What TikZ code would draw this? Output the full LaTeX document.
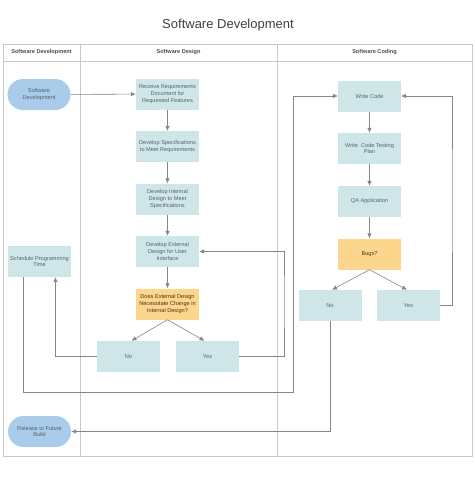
\documentclass[tikz,border=0pt]{standalone}
\usepackage{fontspec}
\setmainfont{Liberation Sans}
\usetikzlibrary{arrows.meta}
\definecolor{boxfill}{HTML}{CFE6E9}
\definecolor{askfill}{HTML}{FCD68C}
\definecolor{endfill}{HTML}{A8CCEA}
\definecolor{linecol}{HTML}{858585}
\definecolor{framecol}{HTML}{C8C8C8}
\definecolor{txtcol}{HTML}{55626B}
\begin{document}
\begin{tikzpicture}[x=1pt,y=-1pt,
  stepbox/.style={fill=boxfill, minimum width=63pt, minimum height=31pt, inner sep=1pt, align=center, text=txtcol, font=\fontsize{5.6}{6.7}\selectfont},
  askbox/.style={stepbox, fill=askfill, text=black!60!brown},
  endbox/.style={stepbox, fill=endfill, rounded corners=15.5pt},
  lanehead/.style={font=\bfseries\fontsize{5.6}{6.5}\selectfont, text=black!70},
  arr/.style={draw=linecol, -{Latex[length=5pt,width=4.5pt]}, line width=0.6pt}]
\useasboundingbox (0,0) rectangle (474,482);

\node (title) at (228,25) [font=\fontsize{13}{15}\selectfont, text=black!75]{Software Development};

% lanes
\draw [framecol, line width=0.7pt] (3,44) rectangle (472,456);
\draw [framecol, line width=0.7pt] (3,61) -- (472,61);
\draw [framecol, line width=0.7pt] (80,44) -- (80,456);
\draw [framecol, line width=0.7pt] (277,44) -- (277,456);
\node (lane-1) at (41.5,52.5) [lanehead]{Software Development};
\node (lane-2) at (178.5,52.5) [lanehead]{Software Design};
\node (lane-3) at (374.5,52.5) [lanehead]{Software Coding};

% software development lane
\node (start) at (39,94.5) [endbox]{Software\\Development};
\node (sched) at (39.5,261.5) [stepbox]{Schedule Programming\\Time};
\node (release) at (39.5,431.5) [endbox]{Release to Future\\Build};

% software design lane
\node (recv) at (167.5,94) [stepbox]{Receive Requirements\\Document for\\Requested Features};
\node (dspec) at (167.5,146.5) [stepbox]{Develop Specifications\\to Meet Requirements};
\node (dint) at (167.5,199) [stepbox]{Develop Internal\\Design to Meet\\Specifications};
\node (dext) at (167.5,251.5) [stepbox]{Develop External\\Design for User\\Interface};
\node (dask) at (167.5,304) [askbox]{Does External Design\\Necessitate Change in\\Internal Design?};
\node (dno) at (128.5,356.5) [stepbox]{No};
\node (dyes) at (207.5,356.5) [stepbox]{Yes};

% software coding lane
\node (wcode) at (369.5,96) [stepbox]{Write Code};
\node (wplan) at (369.5,148.5) [stepbox]{Write\ \ Code Testing\\Plan};
\node (qa) at (369.5,201.5) [stepbox]{QA Application};
\node (bugs) at (369.5,254) [askbox]{Bugs?};
\node (cno) at (330,305.5) [stepbox]{No};
\node (cyes) at (408.5,305.5) [stepbox]{Yes};

\coordinate (loop-1) at (293,392);
\coordinate (loop-2) at (284,300);
\coordinate (loop-3) at (452,200);

\draw [arr] (start) -- (recv);
\draw [arr] (recv) -- (dspec);
\draw [arr] (dspec) -- (dint);
\draw [arr] (dint) -- (dext);
\draw [arr] (dext) -- (dask);
\draw [arr] (dask.south) -- ([xshift=3pt]dno.north);
\draw [arr] (dask.south) -- ([xshift=-3pt]dyes.north);
\draw [arr] (dno.west) -| ([xshift=16pt]sched.south);
\draw [arr] ([xshift=-16pt]sched.south) |- (loop-1) |- (wcode.west);
\draw [arr] (dyes.east) -| (loop-2) |- (dext.east);

\draw [arr] (wcode) -- (wplan);
\draw [arr] (wplan) -- (qa);
\draw [arr] (qa) -- (bugs);
\draw [arr] (bugs.south) -- ([xshift=2pt]cno.north);
\draw [arr] (bugs.south) -- ([xshift=-1.5pt]cyes.north);
\draw [arr] (cyes.east) -| (loop-3) |- (wcode.east);
\draw [arr] (cno.south) |- (release.east);

\end{tikzpicture}
\end{document}
